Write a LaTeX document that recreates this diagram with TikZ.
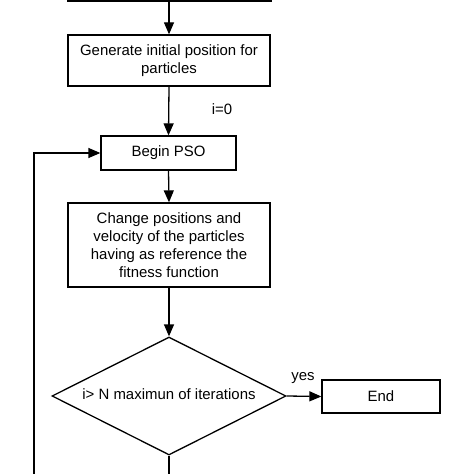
\documentclass[tikz,border=0pt]{standalone}
\usepackage{fontspec}
\setmainfont{Liberation Sans}
\usetikzlibrary{arrows.meta,shapes.geometric}
\begin{document}
\begin{tikzpicture}[x=1bp,y=-1bp,
  every node/.style={font=\fontsize{15}{18}\selectfont},
  box/.style={draw,line width=1.3bp,rectangle,inner sep=0pt,align=center},
  conn/.style={line width=1.3bp,-{Triangle[length=12bp,width=10bp]}},
  plain/.style={line width=1.3bp}]
\clip (0,0) rectangle (474,474);
\useasboundingbox (0,0) rectangle (474,474);
\fill[white] (0,0) rectangle (474,474);
\draw[line width=3bp] (68,-20) rectangle (270,0.5);
\coordinate (topbox) at (169,1.5);
\node[box,minimum width=202bp,minimum height=51bp] (gen) at (169,60.5) {Generate initial position for\\particles};
\node[box,minimum width=135bp,minimum height=34bp] (pso) at (168.5,153) {Begin PSO};
\node[box,minimum width=202bp,minimum height=84bp] (chg) at (169,245) {Change positions and\\velocity of the particles\\having as reference the\\fitness function};
\node[draw,line width=1.3bp,diamond,aspect=2,inner sep=0pt,minimum width=234bp,minimum height=118bp] (dia) at (169,396) {};
\node at (169,394) {i> N maximun of iterations};
\node[box,minimum width=118bp,minimum height=33bp] (fin) at (381,396.5) {End};
\draw[conn] (topbox) -- (gen.north);
\draw[conn] (gen.south) -- (pso.north);
\node (izero) at (222,109) {i=0};
\draw[conn] (pso.south) -- (chg.north);
\draw[conn] (chg.south) -- (dia.north);
\draw[conn] (dia.east) -- (fin.west);
\node (yes) at (303,378) {yes};
\coordinate (bot) at (169,480);
\draw[plain] (dia.south) -- (bot);
\coordinate (loop) at (34,480);
\draw[conn] (loop) -- (34,153) -- (pso.west);
\end{tikzpicture}
\end{document}
